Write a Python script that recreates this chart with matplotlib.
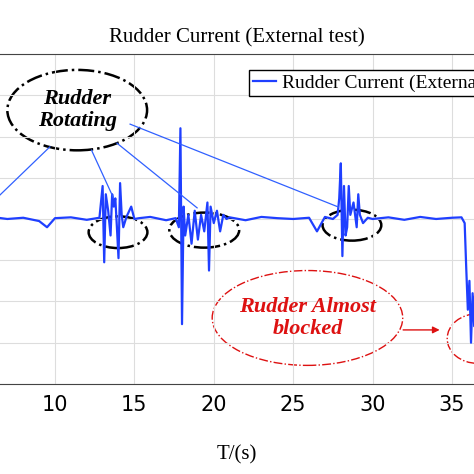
import matplotlib
matplotlib.use("Agg")
import matplotlib.pyplot as plt
from matplotlib.patches import Ellipse

# rudder current trace as (time, value) pairs, arbitrary units
trace = [
    (0, 0), (1, 0.05), (2, -0.03), (3, 0.04), (4, 0.02), (5, -0.04), (6, 0.05), (7, 0.0),
    (8, 0.03), (9, -0.05), (9.5, -0.2), (10, 0.02), (11, 0.04), (12, -0.02), (12.8, 0.03),
    (13.0, 0.8), (13.1, -1.05), (13.2, 0.6), (13.35, 0.2), (13.5, -0.4), (13.6, 0.6),
    (13.7, 0.3), (13.8, 0.5), (13.9, -0.2), (14.0, -0.95), (14.1, 0.87), (14.2, 0.1),
    (14.3, -0.2), (14.5, 0.05), (14.8, 0.3), (15.0, 0.0), (15.3, 0.02), (16, 0.05),
    (17, -0.03), (17.6, 0.02), (17.8, -0.2), (17.9, 2.2), (18.0, -2.55), (18.1, 0.3),
    (18.2, -0.4), (18.4, 0.1), (18.6, -0.6), (18.8, 0.2), (19.0, -0.5), (19.2, 0.1),
    (19.4, -0.3), (19.6, 0.4), (19.7, -1.25), (19.8, 0.3), (20.0, -0.1), (20.2, 0.2),
    (20.4, -0.3), (20.6, 0.1), (20.8, 0.0), (21, 0.04), (22, -0.03), (23, 0.05), (24, 0.02),
    (25, 0.0), (26, 0.03), (26.5, -0.3), (27, 0.05), (27.5, 0.0), (27.8, 0.1), (27.9, 0.5),
    (28.0, 1.35), (28.1, -0.9), (28.2, 0.8), (28.3, -0.4), (28.4, -0.2), (28.5, 0.8),
    (28.6, 0.1), (28.8, 0.4), (29.0, -0.2), (29.1, 0.6), (29.2, 0.1), (29.4, -0.1),
    (29.7, 0.03), (30, 0.0), (31, 0.04), (32, -0.02), (33, 0.05), (34, 0.0), (35, 0.03),
    (35.6, 0.04), (35.8, -0.1), (35.9, -1.2), (36.0, -2.2), (36.1, -1.5), (36.2, -3.0),
    (36.3, -1.8), (36.4, -2.6), (36.5, -1.2), (36.7, -2.4), (37, -2.0), (38, -2.5),
    (39, -2.2), (40, -2.4),
]
t = [p[0] for p in trace]
current = [p[1] for p in trace]

fig = plt.figure(figsize=(4.74, 4.74), dpi=100)
ax = fig.add_axes([-0.219, 0.19, 1.34, 0.696])
ax.plot(t, current, color="#1f3fff", lw=1.6, label="Rudder Current (External test)")
ax.set_xlim(0, 40)
ax.set_ylim(-4, 4)
ax.set_xticks(range(0, 41, 5))
ax.set_yticks(range(-4, 5))
ax.set_yticklabels([])
ax.tick_params(axis="x", labelsize=15, length=0, pad=8)
ax.grid(color="#dddddd", lw=0.8)
for s in ax.spines.values():
    s.set_color("#444444")

serif = "Liberation Serif"
ax.legend(loc="upper left", bbox_to_anchor=(0.54, 0.98), prop={"family": serif, "size": 14},
          fancybox=False, edgecolor="black", handlelength=1.2, handletextpad=0.3,
          borderpad=0.2, framealpha=1)

fig.text(0.5, 0.92, "Rudder Current (External test)", ha="center", va="center",
         family=serif, fontsize=15)
fig.text(0.5, 0.02, "T/(s)", ha="center", va="bottom", family=serif, fontsize=15)

# black annotations
for (x, y, w, h) in [(11.4, 2.64, 8.8, 1.95), (13.97, -0.32, 3.7, 0.77),
                     (19.4, -0.27, 4.4, 0.85), (28.7, -0.15, 3.7, 0.75), (4.3, -0.1, 3.5, 0.8)]:
    ax.add_patch(Ellipse((x, y), w, h, fill=False, ls="-.", lw=1.8, color="black"))
ax.text(11.4, 2.64, "Rudder\nRotating", ha="center", va="center", family=serif,
        fontsize=16, weight="bold", style="italic", linespacing=1.15)
for (x0, y0, x1, y1) in [(9.68, 1.75, 6.53, 0.58), (12.3, 1.67, 13.66, 0.53),
                         (13.9, 1.84, 18.95, 0.27), (14.73, 2.3, 27.85, 0.29)]:
    ax.plot([x0, x1], [y0, y1], color="#3060ff", lw=0.9)

# red annotations
red = "#dd1111"
ax.add_patch(Ellipse((25.9, -2.4), 12, 2.3, fill=False, ls="-.", lw=1.0, color=red))
ax.add_patch(Ellipse((36.6, -2.9), 3.8, 1.2, fill=False, ls="-.", lw=1.0, color=red))
ax.text(25.9, -2.4, "Rudder Almost\nblocked", ha="center", va="center", family=serif,
        fontsize=16, weight="bold", style="italic", color=red, linespacing=1.15)
ax.annotate("", xy=(34.4, -2.69), xytext=(31.75, -2.69),
            arrowprops=dict(arrowstyle="-|>", color=red, lw=1.0))

fig.savefig("out.png", dpi=100)
